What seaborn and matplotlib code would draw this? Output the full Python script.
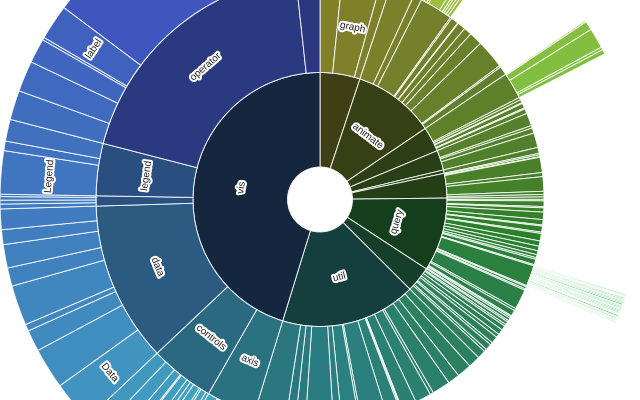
import colorsys
import numpy as np
import pandas as pd
import matplotlib
matplotlib.use("Agg")
import matplotlib.pyplot as plt
import matplotlib.patheffects as pe
from matplotlib.font_manager import FontProperties
import seaborn as sns

# flare class sizes per package (folders below depth 3 are summed up)
analytics = [
    ("cluster/AgglomerativeCluster", 3938), ("cluster/CommunityStructure", 3812),
    ("cluster/HierarchicalCluster", 6714), ("cluster/MergeEdge", 743),
    ("graph/BetweennessCentrality", 3534), ("graph/LinkDistance", 5731),
    ("graph/MaxFlowMinCut", 7840), ("graph/ShortestPaths", 5914),
    ("graph/SpanningTree", 3416), ("optimization/AspectRatioBanker", 7074),
]
animate = [
    ("Easing", 17010), ("FunctionSequence", 5842),
    ("interpolate/ArrayInterpolator", 1983), ("interpolate/ColorInterpolator", 2047),
    ("interpolate/DateInterpolator", 1375), ("interpolate/Interpolator", 8746),
    ("interpolate/MatrixInterpolator", 2202), ("interpolate/NumberInterpolator", 1382),
    ("interpolate/ObjectInterpolator", 1629), ("interpolate/PointInterpolator", 1675),
    ("interpolate/RectangleInterpolator", 2042), ("ISchedulable", 1041),
    ("Parallel", 5176), ("Pause", 449), ("Scheduler", 5593), ("Sequence", 5534),
    ("Transition", 9201), ("Transitioner", 19975), ("TransitionEvent", 1116),
    ("Tween", 6006),
]
data = [
    ("converters/Converters", 721), ("converters/DelimitedTextConverter", 4294),
    ("converters/GraphMLConverter", 9800), ("converters/IDataConverter", 1314),
    ("converters/JSONConverter", 2220), ("DataField", 1759), ("DataSchema", 2165),
    ("DataSet", 586), ("DataSource", 3331), ("DataTable", 772), ("DataUtil", 3322),
]
display = [("DirtySprite", 8833), ("LineSprite", 1732), ("RectSprite", 3623),
           ("TextSprite", 10066)]
flex = [("FlareVis", 4116)]
physics = [
    ("DragForce", 1082), ("GravityForce", 1336), ("IForce", 319), ("NBodyForce", 10498),
    ("Particle", 2822), ("Simulation", 9983), ("Spring", 2213), ("SpringForce", 1681),
]
query = [
    ("AggregateExpression", 1616), ("And", 1027), ("Arithmetic", 3891), ("Average", 891),
    ("BinaryExpression", 2893), ("Comparison", 5103), ("CompositeExpression", 3677),
    ("Count", 781), ("DateUtil", 4141), ("Distinct", 933), ("Expression", 5130),
    ("ExpressionIterator", 3617), ("Fn", 3240), ("If", 2732), ("IsA", 2039),
    ("Literal", 1214), ("Match", 3748), ("Maximum", 843),
    ("methods/add", 593), ("methods/and", 330), ("methods/average", 287),
    ("methods/count", 277), ("methods/distinct", 292), ("methods/div", 595),
    ("methods/eq", 594), ("methods/fn", 460), ("methods/gt", 603), ("methods/gte", 625),
    ("methods/iff", 748), ("methods/isa", 461), ("methods/lt", 597), ("methods/lte", 619),
    ("methods/max", 283), ("methods/min", 283), ("methods/mod", 591), ("methods/mul", 603),
    ("methods/neq", 599), ("methods/not", 386), ("methods/or", 323),
    ("methods/orderby", 307), ("methods/range", 772), ("methods/select", 296),
    ("methods/stddev", 363), ("methods/sub", 600), ("methods/sum", 280),
    ("methods/update", 307), ("methods/variance", 335), ("methods/where", 299),
    ("methods/xor", 354), ("methods/_", 264),
    ("Minimum", 843), ("Not", 1554), ("Or", 970), ("Query", 13896), ("Range", 1594),
    ("StringUtil", 4130), ("Sum", 791), ("Variable", 1124), ("Variance", 1876),
    ("Xor", 1101),
]
scale = [
    ("IScaleMap", 2105), ("LinearScale", 1316), ("LogScale", 3151), ("OrdinalScale", 3770),
    ("QuantileScale", 2435), ("QuantitativeScale", 4839), ("RootScale", 1756),
    ("Scale", 4268), ("ScaleType", 1821), ("TimeScale", 5833),
]
util = [
    ("Arrays", 8258), ("Colors", 10001), ("Dates", 8217), ("Displays", 12555),
    ("Filter", 2324), ("Geometry", 10993), ("heap/FibonacciHeap", 9354),
    ("heap/HeapNode", 1233), ("IEvaluable", 335), ("IPredicate", 383),
    ("IValueProxy", 874), ("math/DenseMatrix", 3165), ("math/IMatrix", 2815),
    ("math/SparseMatrix", 3366), ("Maths", 17705), ("Orientation", 1486),
    ("palette/ColorPalette", 6367), ("palette/Palette", 1229),
    ("palette/ShapePalette", 2059), ("palette/SizePalette", 2291), ("Property", 5559),
    ("Shapes", 19118), ("Sort", 6887), ("Stats", 6557), ("Strings", 22026),
]
vis = [
    ("axis/Axes", 1302), ("axis/Axis", 24593), ("axis/AxisGridLine", 652),
    ("axis/AxisLabel", 636), ("axis/CartesianAxes", 6703),
    ("controls/AnchorControl", 2138), ("controls/ClickControl", 3824),
    ("controls/Control", 1353), ("controls/ControlList", 4665),
    ("controls/DragControl", 2649), ("controls/ExpandControl", 2832),
    ("controls/HoverControl", 4896), ("controls/IControl", 763),
    ("controls/PanZoomControl", 5222), ("controls/SelectionControl", 7862),
    ("controls/TooltipControl", 8435),
    ("data/Data", 20544), ("data/DataList", 19788), ("data/DataSprite", 10349),
    ("data/EdgeSprite", 3301), ("data/NodeSprite", 19382), ("data/render", 8867),
    ("data/ScaleBinding", 11275), ("data/Tree", 7147), ("data/TreeBuilder", 9930),
    ("events/DataEvent", 2313), ("events/SelectionEvent", 1880),
    ("events/TooltipEvent", 1701), ("events/VisualizationEvent", 1117),
    ("legend/Legend", 20859), ("legend/LegendItem", 4614), ("legend/LegendRange", 10530),
    ("operator/distortion", 14219), ("operator/encoder", 14897),
    ("operator/filter", 11893), ("operator/IOperator", 1286), ("operator/label", 17057),
    ("operator/layout", 108083), ("operator/Operator", 2490),
    ("operator/OperatorList", 5248), ("operator/OperatorSequence", 4190),
    ("operator/OperatorSwitch", 2581), ("operator/SortOperator", 2023),
    ("Visualization", 16540),
]
packages = ["analytics", "animate", "data", "display", "flex", "physics",
            "query", "scale", "util", "vis"]
package_leaves = [analytics, animate, data, display, flex, physics,
                  query, scale, util, vis]

rows = []
for pkg, leaves in zip(packages, package_leaves):
    for path, size in leaves:
        parts = path.split("/")
        rows.append((pkg, parts[0], parts[1] if len(parts) > 1 else None, size))
df = pd.DataFrame(rows, columns=["l1", "l2", "l3", "size"])
total = df["size"].sum()
df["t1"] = df["size"].cumsum() / total * 360
df["t0"] = df["t1"] - df["size"] / total * 360

ring1 = df.groupby("l1", sort=False).agg(t0=("t0", "min"), t1=("t1", "max")).reset_index()
ring1 = ring1.rename(columns={"l1": "name"})
ring2 = df.groupby(["l1", "l2"], sort=False).agg(t0=("t0", "min"), t1=("t1", "max")).reset_index()
ring2 = ring2.rename(columns={"l2": "name"})
ring3 = df[df["l3"].notna()][["l3", "t0", "t1"]].rename(columns={"l3": "name"})

radii = [32.5, 127, 224, 320]
center = (320, 199.5)  # pixel position of the centre, from the top left
hue_angles = [0, 15, 40, 60, 85, 106, 130, 166, 203, 218, 247, 277, 319, 360]
hue_values = [60, 60, 73, 84, 100, 130, 152, 178, 190, 196, 206, 215, 229, 232]
lightness = {1: 0.165, 2: 0.335, 3: 0.50}


def node_color(depth, angle):
    h = np.interp(angle, hue_angles, hue_values)
    if depth == 3:
        h += 12 * max(0.0, 1 - angle / 100)
    return colorsys.hls_to_rgb(h / 360, lightness[depth], 0.5)


sns.set_theme(style="white")
plt.rcParams["font.family"] = ["Liberation Sans", "DejaVu Sans"]

fig = plt.figure(figsize=(6.4, 4.0), dpi=100)
ax = fig.add_axes([0, (400 - center[1] - 320) / 400, 1, 640 / 400], projection="polar")
ax.set_theta_zero_location("N")
ax.set_theta_direction(-1)
ax.set_ylim(0, 320)
ax.set_axis_off()

prop = FontProperties(family=["Liberation Sans", "DejaVu Sans"], size=7.2)
renderer = fig.canvas.get_renderer()

for depth, ring in [(1, ring1), (2, ring2), (3, ring3)]:
    r_in, r_out = radii[depth - 1], radii[depth]
    mids = (ring["t0"] + ring["t1"]) / 2
    colors = [node_color(depth, m) for m in mids]
    ax.bar(np.deg2rad(mids), r_out - r_in, width=np.deg2rad(ring["t1"] - ring["t0"]),
           bottom=r_in, color=colors, edgecolor=(1, 1, 1, 0.85), linewidth=0.7,
           align="center")

    r_mid = (r_in + r_out) / 2
    for name, t0, t1 in zip(ring["name"], ring["t0"], ring["t1"]):
        arc = np.deg2rad(t1 - t0) * r_mid
        w, h, d = renderer.get_text_width_height_descent(name, prop, ismath=False)
        if w + 3 >= arc:
            continue
        mid = (t0 + t1) / 2
        # labels whose centre falls outside the canvas are not shown
        px = center[0] + r_mid * np.sin(np.deg2rad(mid))
        py = center[1] - r_mid * np.cos(np.deg2rad(mid))
        if not (w / 2 < px < 640 - w / 2 and w / 2 < py < 400 - w / 2):
            continue
        rot = -mid
        if 90 < mid < 270:
            rot += 180
        ax.text(np.deg2rad(mid), r_mid, name, rotation=rot, rotation_mode="anchor",
                ha="center", va="center", fontproperties=prop, color="#222222",
                path_effects=[pe.withStroke(linewidth=3, foreground="white")])

fig.savefig("out.png", dpi=100, facecolor="white")
